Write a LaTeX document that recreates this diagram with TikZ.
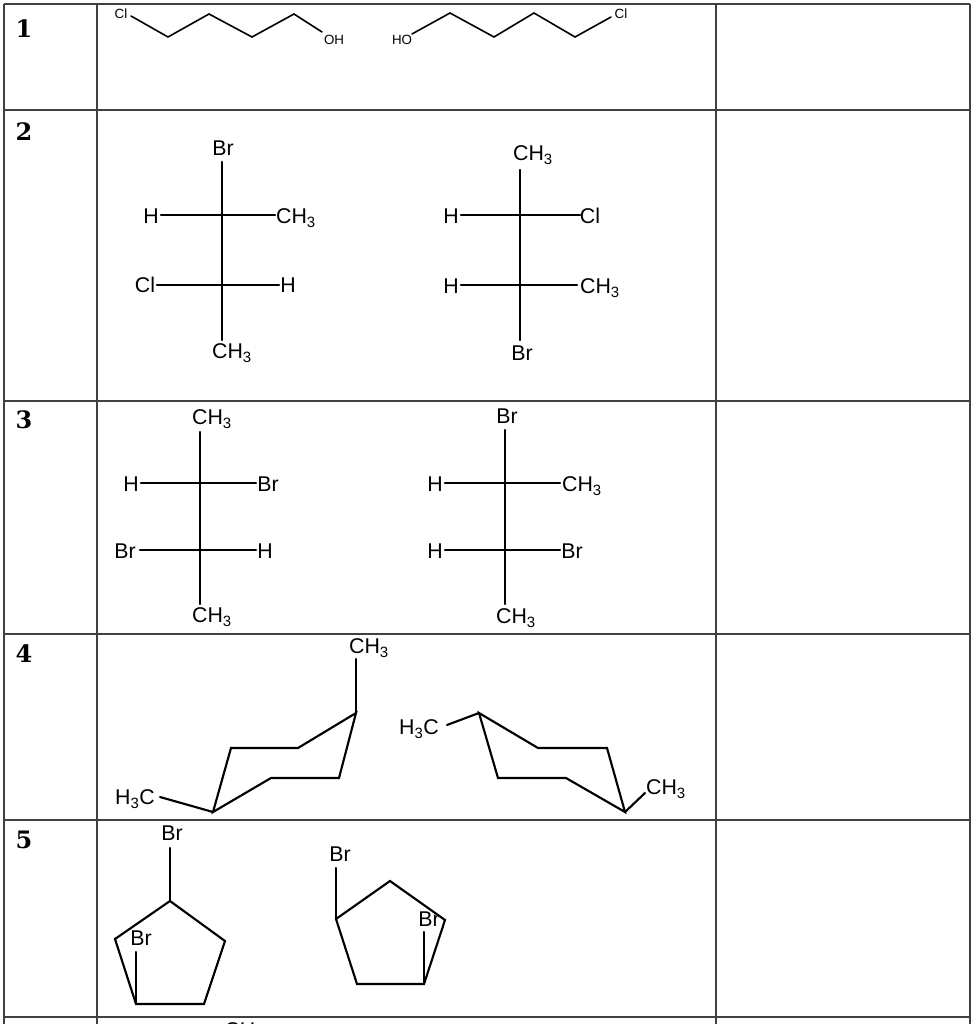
\documentclass[tikz,border=0pt]{standalone}
\usepackage{fontspec}
\setmainfont{Liberation Sans}
\newfontfamily\numfont{DejaVu Serif}
\tikzset{
  bond/.style={line width=1.6pt, line cap=round, line join=miter},
  grid/.style={line width=0.9pt, draw=black!75},
  lab/.style={font=\fontsize{16pt}{18pt}\selectfont, inner sep=0pt},
  small/.style={font=\fontsize{10pt}{11pt}\selectfont, inner sep=0pt},
  rownum/.style={font=\numfont\bfseries\fontsize{18pt}{21pt}\selectfont, inner sep=0pt},
}
\newcommand{\methyl}{CH\textsubscript{3}}
\newcommand{\hmethyl}{H\textsubscript{3}C}
\begin{document}
\begin{tikzpicture}[x=0.75pt,y=-0.75pt]
\useasboundingbox (0,0) rectangle (976,1024);
\clip (0,0) rectangle (976,1024);
% table
\foreach \yy in {4,110,401,634,820,1017} \draw[grid] (4,\yy) -- (970,\yy);
\foreach \xx in {4,97,716,970} \draw[grid] (\xx,4) -- (\xx,1030);
\node[rownum] (n1) at (24,29) {1};
\node[rownum] (n2) at (24,132) {2};
\node[rownum] (n3) at (24,420) {3};
\node[rownum] (n4) at (24,654) {4};
\node[rownum] (n5) at (24,840) {5};
\node[lab] (cut) at (240,1030) {CH};
% row 1
\node[small] (cl1) at (121,14) {Cl};
\node[small] (oh1) at (334,40) {OH};
\draw[bond, line width=1.2pt] (131,16) -- (168,37) -- (209,14) -- (252,37) -- (294,14) -- (322,32);
\node[small] (ho2) at (402,40) {HO};
\node[small] (cl2) at (621,14) {Cl};
\draw[bond, line width=1.2pt] (412,34) -- (450,13) -- (494,37) -- (534,13) -- (575,37) -- (611,17);
% row 2 left
\node[lab] (a1) at (223,148) {Br};
\node[lab] (a2) at (151,216) {H};
\node[lab] (a3) at (296,218) {\methyl};
\node[lab] (a4) at (145,285) {Cl};
\node[lab] (a5) at (288,285) {H};
\node[lab] (a6) at (232,353) {\methyl};
\draw[bond] (222,162) -- (222,340);
\draw[bond] (161,215) -- (275,215);
\draw[bond] (157,285) -- (279,285);
% row 2 right
\node[lab] (b1) at (533,155) {\methyl};
\node[lab] (b2) at (451,216) {H};
\node[lab] (b3) at (590,216) {Cl};
\node[lab] (b4) at (451,286) {H};
\node[lab] (b5) at (600,288) {\methyl};
\node[lab] (b6) at (522,353) {Br};
\draw[bond] (520,170) -- (520,340);
\draw[bond] (461,215) -- (580,215);
\draw[bond] (461,285) -- (577,285);
% row 3 left
\node[lab] (c1) at (212,419) {\methyl};
\node[lab] (c2) at (131,484) {H};
\node[lab] (c3) at (268,484) {Br};
\node[lab] (c4) at (125,551) {Br};
\node[lab] (c5) at (265,551) {H};
\node[lab] (c6) at (212,617) {\methyl};
\draw[bond] (200,432) -- (200,604);
\draw[bond] (141,483) -- (256,483);
\draw[bond] (140,550) -- (256,550);
% row 3 right
\node[lab] (d1) at (507,416) {Br};
\node[lab] (d2) at (435,484) {H};
\node[lab] (d3) at (582,486) {\methyl};
\node[lab] (d4) at (435,551) {H};
\node[lab] (d5) at (572,551) {Br};
\node[lab] (d6) at (516,618) {\methyl};
\draw[bond] (505,430) -- (505,604);
\draw[bond] (445,483) -- (560,483);
\draw[bond] (445,550) -- (560,550);
% row 4 left chair
\coordinate (A) at (213,812); \coordinate (B) at (231,748); \coordinate (C) at (298,748);
\coordinate (D) at (356,713); \coordinate (E) at (339,778); \coordinate (F) at (271,778);
\draw[bond] (A) -- (B) -- (C) -- (D) -- (E) -- (F) -- cycle;
\node[lab] (e1) at (369,648) {\methyl};
\node[lab] (e2) at (135,799) {\hmethyl};
\draw[bond] (D) -- (356,659);
\draw[bond] (A) -- (160,797);
% row 4 right chair
\coordinate (G) at (479,713); \coordinate (H) at (538,748); \coordinate (I) at (607,748);
\coordinate (J) at (625,812); \coordinate (K) at (566,778); \coordinate (L) at (498,778);
\draw[bond] (G) -- (H) -- (I) -- (J) -- (K) -- (L) -- cycle;
\node[lab] (f1) at (419,729) {\hmethyl};
\node[lab] (f2) at (666,789) {\methyl};
\draw[bond] (G) -- (447,725);
\draw[bond] (J) -- (645,793);
% row 5 left
\draw[bond] (170,901) -- (225,941) -- (204,1004) -- (136,1004) -- (115,939) -- cycle;
\node[lab] (g1) at (172,833) {Br};
\draw[bond] (170,901) -- (170,848);
\node[lab] (g2) at (141,938) {Br};
\draw[bond] (136,1004) -- (136,952);
% row 5 right
\draw[bond] (336,919) -- (390,881) -- (445,920) -- (424,984) -- (357,984) -- cycle;
\node[lab] (h1) at (340,854) {Br};
\draw[bond] (336,919) -- (336,868);
\node[lab] (h2) at (429,919) {Br};
\draw[bond] (424,984) -- (424,932);
\end{tikzpicture}
\end{document}
